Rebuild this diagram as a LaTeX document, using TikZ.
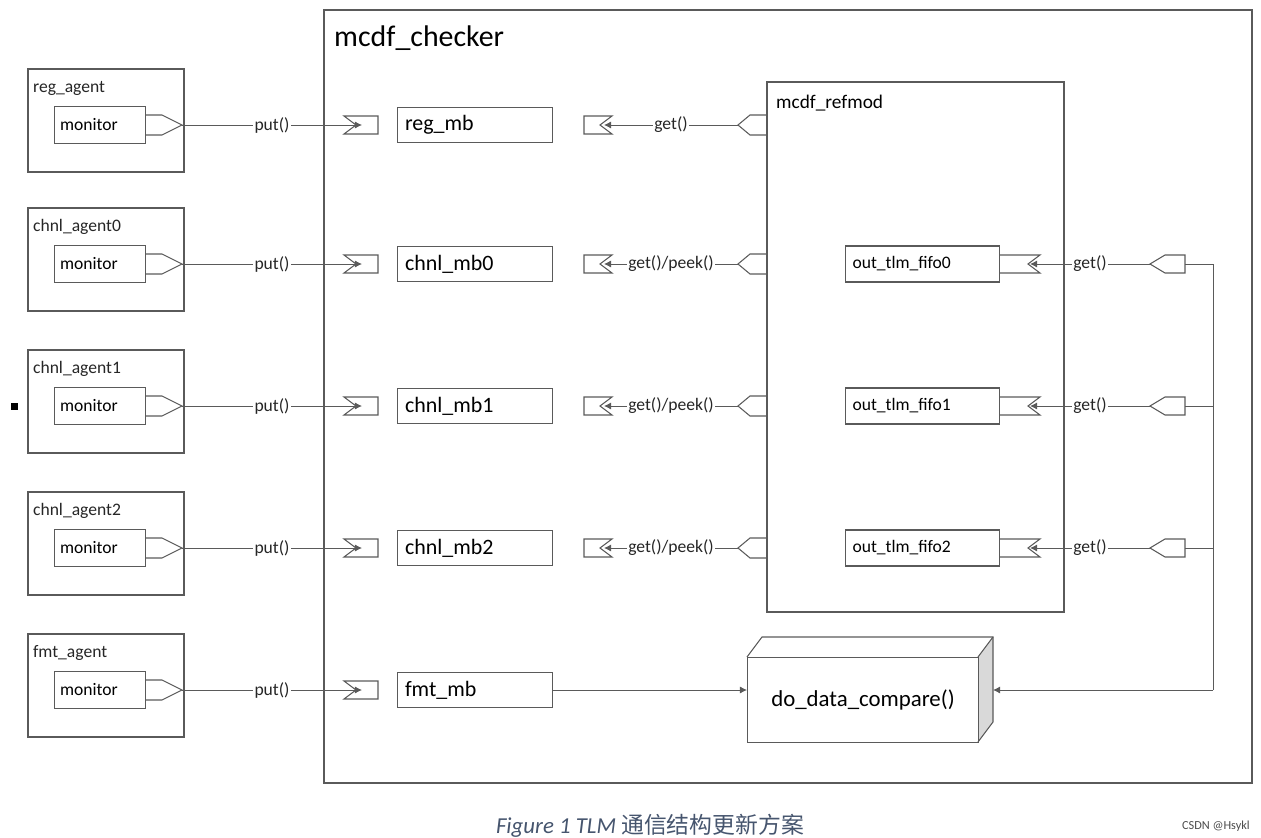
\documentclass[tikz,border=0pt]{standalone}
\usepackage{fontspec}
\setmainfont{Carlito}
\newfontfamily\cjk{Noto Sans CJK SC}
\usetikzlibrary{positioning,arrows.meta}
\definecolor{linegray}{RGB}{90,90,90}
\definecolor{captionblue}{RGB}{70,85,110}
\tikzset{
  box/.style={draw=linegray, line width=0.6pt},
  lbl/.style={font=\fontsize{10}{11}\selectfont, text=black!85, inner sep=1pt},
  wire/.style={draw=linegray, line width=0.5pt},
  tip/.style={-{Latex[length=4pt,width=4pt]}},
}
\begin{document}
\begin{tikzpicture}[x=0.02cm, y=-0.02cm]
\useasboundingbox (0,0) rectangle (1261,838);

% checker
\draw[box] (324,10) rectangle (1252,783);
\node[anchor=west, font=\fontsize{17}{20}\selectfont] (title) at (328,38) {mcdf\_checker};

% refmod
\draw[box] (767,82) rectangle (1064,612);
\node[anchor=west, font=\fontsize{11}{13}\selectfont] (refname) at (770,103) {mcdf\_refmod};

% agents, monitors, mailboxes
\foreach \y/\agent/\mb [count=\i] in {125/reg\_agent/reg\_mb, 264/chnl\_agent0/chnl\_mb0, 406/chnl\_agent1/chnl\_mb1, 548/chnl\_agent2/chnl\_mb2, 690/fmt\_agent/fmt\_mb}
{
  \draw[box] (28,\y-56) rectangle (184,\y+47);
  \node[anchor=west, lbl] (ag\i) at (31,\y-37) {\agent};
  \node[box, anchor=west, minimum width=1.82cm, minimum height=0.74cm, font=\fontsize{10}{12}\selectfont, inner sep=2pt, text width=1.6cm] (mon\i) at (54,\y) {monitor};
  % export port
  \draw[box] (145,\y-10) -- (162,\y-10) -- (182,\y) -- (162,\y+10) -- (145,\y+10);
  \coordinate (exp\i) at (182,\y);
  % import port
  \draw[box] (344,\y-9) -- (378,\y-9) -- (378,\y+9) -- (344,\y+9) -- (356,\y) -- cycle;
  \coordinate (imp\i) at (362,\y);
  \draw[wire, tip] (exp\i) -- node[lbl, fill=white, pos=0.5] {put()} (imp\i);
  \node[box, anchor=west, minimum width=3.1cm, minimum height=0.7cm, font=\fontsize{12.5}{14}\selectfont, text width=2.8cm, inner sep=3pt] (mb\i) at (397,\y) {\mb};
}

% refmod side: get ports
\foreach \y/\txt [count=\i] in {125/{get()}, 264/{get()/peek()}, 406/{get()/peek()}, 548/{get()/peek()}}
{
  \draw[box] (612,\y-9) -- (584,\y-9) -- (584,\y+9) -- (612,\y+9) -- (600,\y) -- cycle;
  \coordinate (gin\i) at (604,\y);
  \draw[box] (767,\y-10) -- (750,\y-10) -- (738,\y) -- (750,\y+10) -- (767,\y+10);
  \coordinate (gout\i) at (738,\y);
  \draw[wire, tip] (gout\i) -- node[lbl, fill=white, pos=0.5] {\txt} (gin\i);
}

% fifos
\coordinate (bus) at (1213,264);
\foreach \y/\f [count=\i] in {264/out\_tlm\_fifo0, 406/out\_tlm\_fifo1, 548/out\_tlm\_fifo2}
{
  \node[box, anchor=west, minimum width=3.08cm, minimum height=0.72cm, font=\fontsize{10}{12}\selectfont, text width=2.8cm, inner sep=3pt] (fifo\i) at (845,\y) {\f};
  \draw[box] (999,\y-9) -- (1040,\y-9) -- (1028,\y) -- (1040,\y+9) -- (999,\y+9);
  \coordinate (fin\i) at (1030,\y);
  \draw[box] (1185,\y-9) -- (1165,\y-9) -- (1150,\y) -- (1165,\y+9) -- (1185,\y+9) -- cycle;
  \coordinate (fout\i) at (1150,\y);
  \coordinate (fend\i) at (1185,\y);
  \draw[wire, tip] (fout\i) -- node[lbl, fill=white, pos=0.5] {get()} (fin\i);
  \draw[wire] (fend\i) -- (1213,\y);
}

% compare block
\fill[black!15] (978,657) -- (993,637) -- (993,722) -- (978,742) -- cycle;
\draw[box] (747,657) -- (762,637) -- (993,637) -- (993,722) -- (978,742);
\draw[box] (978,657) -- (993,637);
\node[box, anchor=north west, minimum width=4.62cm, minimum height=1.7cm, font=\fontsize{13}{15}\selectfont, inner sep=0pt] (cmp) at (747,657) {do\_data\_compare()};
\coordinate (cmpin) at (993,690);
\draw[wire] (bus) -- (1213,690) coordinate (corner);
\draw[wire, tip] (corner) -- (cmpin);
\draw[wire, tip] (mb5.east) -- (mb5.east -| cmp.west);

% marks
\fill (11,403) rectangle (18,410);

% caption
\node[font=\itshape\fontsize{13}{15}\selectfont, text=captionblue] (cap) at (650,826) {Figure 1 TLM {\cjk 通信结构更新方案}};
\node[anchor=east, font=\fontsize{7}{8}\selectfont, text=black!70] (csdn) at (1256,826) {CSDN @Hsykl};
\end{tikzpicture}
\end{document}
